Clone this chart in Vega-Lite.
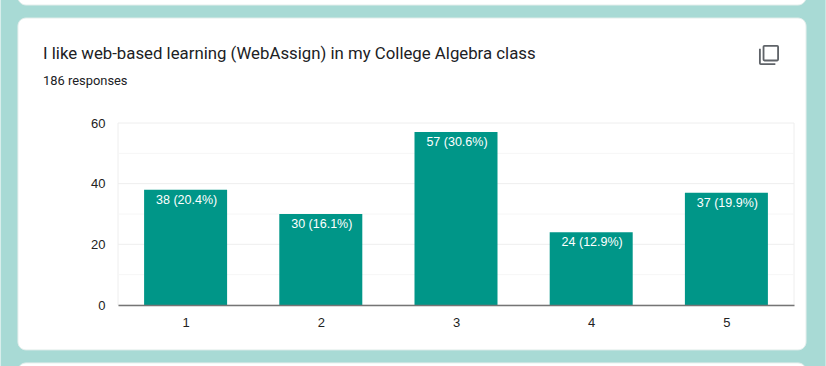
{"$schema":"https://vega.github.io/schema/vega-lite/v6.json","width":676,"height":182,"autosize":"none","padding":{"left":118,"top":123,"right":32,"bottom":61},"background":"#ffffff","title":{"text":"I like web-based learning (WebAssign) in my College Algebra class","subtitle":"186 responses","anchor":"start","frame":"group","dx":-75,"offset":-132,"zindex":1,"font":"Roboto","fontSize":16.8,"fontWeight":400,"color":"#202124","subtitleFont":"Roboto","subtitleFontSize":12.9,"subtitleColor":"#202124","subtitlePadding":12},"config":{"view":{"stroke":null}},"datasets":{"panels":[{"panel":"backdrop","x1":-0.365,"x2":5.73,"y1":-30,"y2":110,"fill":"backdrop"},{"panel":"above","x1":-0.24,"x2":5.589,"y1":98.9,"y2":115,"fill":"card"},{"panel":"main","x1":-0.24,"x2":5.589,"y1":-14.8,"y2":94.6,"fill":"card"},{"panel":"below","x1":-0.24,"x2":5.589,"y1":-35,"y2":-19.1,"fill":"card"}],"bars":[{"rating":1,"count":38,"label":"38 (20.4%)"},{"rating":2,"count":30,"label":"30 (16.1%)"},{"rating":3,"count":57,"label":"57 (30.6%)"},{"rating":4,"count":24,"label":"24 (12.9%)"},{"rating":5,"count":37,"label":"37 (19.9%)"}]},"layer":[{"data":{"name":"panels"},"mark":{"type":"rect","cornerRadius":8,"strokeWidth":1},"encoding":{"x":{"field":"x1","type":"quantitative","scale":{"domain":[0.5,5.5],"nice":false,"zero":false,"padding":0},"axis":{"values":[1,2,3,4,5],"title":null,"grid":false,"ticks":false,"domain":true,"domainColor":"#757575","domainWidth":1.5,"labelFont":"Liberation Sans","labelFontSize":13,"labelColor":"#222222","labelPadding":11,"zindex":1,"format":"d"}},"x2":{"field":"x2"},"y":{"field":"y1","type":"quantitative","scale":{"domain":[0,60],"nice":false,"padding":0},"axis":{"values":[0,20,40,60],"title":null,"grid":false,"ticks":false,"domain":false,"labelFont":"Liberation Sans","labelFontSize":13,"labelColor":"#222222","labelPadding":13,"zindex":1}},"y2":{"field":"y2"},"fill":{"field":"fill","type":"nominal","scale":{"domain":["backdrop","card"],"range":["#a8dad5","#ffffff"]},"legend":null},"stroke":{"condition":{"test":"datum.fill === 'backdrop'","value":"#a8dad5"},"value":"#e4eeec"}}},{"data":{"values":[{"x1":0.5,"x2":5.5,"y1":0,"y2":60}]},"mark":{"type":"rect","fill":"#ffffff","stroke":"#eeeeee","strokeWidth":1},"encoding":{"x":{"field":"x1","type":"quantitative"},"x2":{"field":"x2"},"y":{"field":"y1","type":"quantitative"},"y2":{"field":"y2"}}},{"data":{"values":[{"g":10,"kind":"minor"},{"g":20,"kind":"major"},{"g":30,"kind":"minor"},{"g":40,"kind":"major"},{"g":50,"kind":"minor"}]},"mark":{"type":"rule","strokeWidth":1},"encoding":{"y":{"field":"g","type":"quantitative"},"color":{"field":"kind","type":"nominal","scale":{"domain":["major","minor"],"range":["#eeeeee","#f6f6f6"]},"legend":null}}},{"data":{"name":"bars"},"mark":{"type":"bar","width":83,"orient":"vertical","color":"#009688"},"encoding":{"x":{"field":"rating","type":"quantitative"},"y":{"field":"count","type":"quantitative"}}},{"data":{"name":"bars"},"mark":{"type":"text","baseline":"top","align":"center","dy":4,"dx":1,"font":"Liberation Sans","fontSize":12.5,"color":"#ffffff"},"encoding":{"x":{"field":"rating","type":"quantitative"},"y":{"field":"count","type":"quantitative"},"text":{"field":"label"}}},{"data":{"values":[{"x":5.315,"y":82.4}]},"mark":{"type":"point","filled":true,"opacity":1,"color":"#5f6368","size":476,"shape":"M-0.75 -0.583 H-0.917 V0.75 Q-0.917 0.917 -0.75 0.917 H0.583 V0.75 H-0.75 Z M0.75 -0.917 H-0.417 Q-0.583 -0.917 -0.583 -0.75 V0.417 Q-0.583 0.583 -0.417 0.583 H0.75 Q0.917 0.583 0.917 0.417 V-0.75 Q0.917 -0.917 0.75 -0.917 Z M0.75 0.417 H-0.417 V-0.75 H0.75 Z"},"encoding":{"x":{"field":"x","type":"quantitative"},"y":{"field":"y","type":"quantitative"}}}]}
